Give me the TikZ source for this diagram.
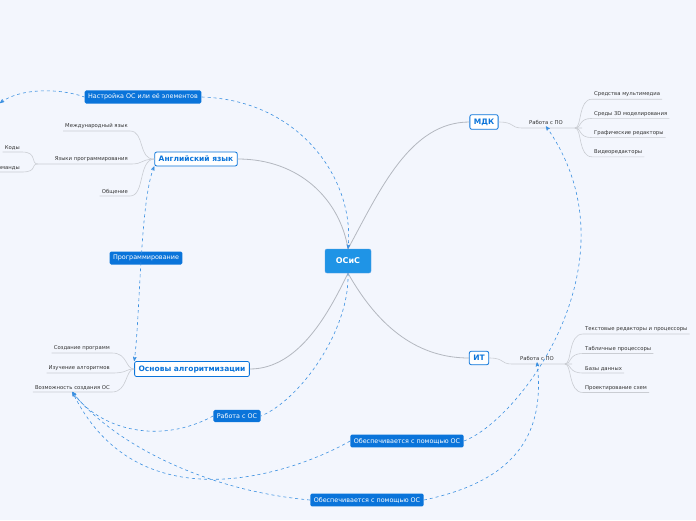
\documentclass[tikz,border=0pt]{standalone}
\usepackage{fontspec}
\setmainfont{DejaVu Sans}
\usetikzlibrary{arrows,positioning}
\definecolor{bg}{HTML}{F3F6FD}
\definecolor{mblue}{HTML}{0A74DA}
\definecolor{cblue}{HTML}{1F94E6}
\definecolor{lgrey}{HTML}{B4B8C0}
\tikzset{
  topic/.style={draw=mblue,fill=white,thick,rounded corners=2pt,font=\fontsize{7.5}{8}\selectfont\bfseries,text=mblue,inner sep=4pt},
  note/.style={fill=mblue,rounded corners=1.5pt,font=\fontsize{6.4}{7}\selectfont,text=white,inner sep=3.5pt},
  leaf/.style={font=\fontsize{5.3}{6}\selectfont,text=black!80,inner sep=2pt},
  branch/.style={lgrey,thick},
  twig/.style={lgrey!70,semithick},
  link/.style={mblue!80,dashed,semithick,>=stealth'}
}
\begin{document}
\begin{tikzpicture}[x=1pt,y=-1pt]
\fill[bg] (0,0) rectangle (696,520);
\useasboundingbox (0,0) rectangle (696,520);
\node[fill=cblue,draw=mblue!70,rounded corners=2pt,minimum width=46pt,minimum height=24pt,text=white,font=\fontsize{8}{9}\selectfont\bfseries] (osis) at (348,261) {ОСиС};
\node[topic] (mdk) at (484,122) {МДК};
\node[topic] (it) at (479,358) {ИТ};
\node[topic] (eng) at (196,159) {Английский язык};
\node[topic] (alg) at (192,369) {Основы алгоритмизации};
% notes
\node[note] (nastr) at (143,97) {Настройка ОС или её элементов};
\node[note] (progr) at (146,258) {Программирование};
\node[note] (rabos) at (237,416) {Работа с ОС};
\node[note] (obesp1) at (407,441) {Обеспечивается с помощью ОС};
\node[note] (obesp2) at (367,500) {Обеспечивается с помощью ОС};
% main branches
\draw[branch] (osis.north) .. controls (340,200) and (300,159) .. (eng.east);
\draw[branch] (osis.south) .. controls (330,310) and (300,369) .. (alg.east);
\draw[branch] (osis.north) .. controls (380,190) and (410,122) .. (mdk.west);
\draw[branch] (osis.south) .. controls (380,330) and (420,358) .. (it.west);
% MDK
\node[leaf] (mpo) at (546,122) {Работа с ПО};
\draw[twig] (mdk.east) .. controls (515,122) and (510,128) .. (522,128) -- (582,128);
\foreach \t [count=\n] in {Средства мультимедиа,Среды 3D моделирования,Графические редакторы,Видеоредакторы}{
  \node[leaf,anchor=south west] (m\n) at (592,80+\n*19.2) {\t};
  \draw[twig] (575,128) .. controls (582,128) and (578,\n*19.2+80) .. (592,\n*19.2+80) -- (m\n.south east);
}
% IT
\node[leaf] (ipo) at (537,358) {Работа с ПО};
\draw[twig] (it.east) .. controls (505,358) and (500,364) .. (512,364) -- (572,364);
\foreach \t [count=\n] in {Текстовые редакторы и процессоры,Табличные процессоры,Базы данных,Проектирование схем}{
  \node[leaf,anchor=south west] (i\n) at (583,314.5+\n*19.5) {\t};
  \draw[twig] (565,364) .. controls (572,364) and (568,\n*19.5+314.5) .. (583,\n*19.5+314.5) -- (i\n.south east);
}
% English
\node[leaf,anchor=south east] (e1) at (130,131) {Международный язык};
\node[leaf,anchor=south east] (e2) at (130,164) {Языки программирования};
\node[leaf,anchor=south east] (e3) at (130,196) {Общение};
\foreach \n/\y in {1/131,2/164,3/196}{
  \draw[twig] (eng.west) .. controls (138,160) and (145,\y) .. (130,\y) -- (e\n.south west);
}
\node[leaf,anchor=south east] (kody) at (22,152) {Коды};
\node[leaf,anchor=south east] (koman) at (22,172) {Команды};
\draw[twig] (e2.south west) -- (38,164) .. controls (30,164) and (38,152) .. (22,152) -- (kody.south west);
\draw[twig] (38,164) .. controls (30,164) and (38,172) .. (22,172) -- (koman.south west);
% algorithms
\node[leaf,anchor=south east] (a1) at (112,353) {Создание программ};
\node[leaf,anchor=south east] (a2) at (112,373) {Изучение алгоритмов};
\node[leaf,anchor=south east] (a3) at (112,392) {Возможность создания ОС};
\foreach \n/\y in {1/353,2/373,3/392}{
  \draw[twig] (alg.west) .. controls (125,369) and (128,\y) .. (112,\y) -- (a\n.south west);
}
% dashed links
\coordinate (offl) at (0,103);
\draw[link,<-] (offl) .. controls (20,88) and (60,88) .. (nastr.west);
\draw[link,->] (nastr.east) .. controls (300,100) and (355,180) .. (osis.north);
\draw[link,<->] (eng.south west) .. controls (140,200) and (140,320) .. (alg.north west);
\draw[link] (osis.south) .. controls (350,330) and (300,400) .. (rabos.east);
\draw[link,->] (rabos.west) .. controls (160,445) and (100,430) .. (a3.south);
\draw[link,->] (obesp1.east) .. controls (520,420) and (640,260) .. (mpo.south);
\draw[link,->] (obesp1.west) .. controls (300,470) and (140,530) .. (a3.south);
\draw[link,->] (obesp2.east) .. controls (520,480) and (545,430) .. (ipo.south);
\draw[link,->] (obesp2.west) .. controls (200,490) and (110,440) .. (a3.south);
\end{tikzpicture}
\end{document}
